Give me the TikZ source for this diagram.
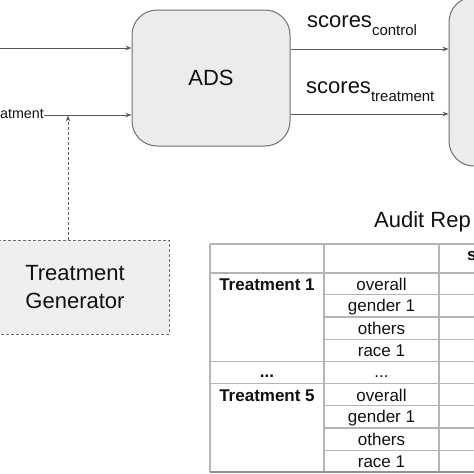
\documentclass[tikz,border=0pt]{standalone}
\usepackage{fontspec}
\setmainfont{Liberation Sans}
\usetikzlibrary{arrows.meta}
\definecolor{boxfill}{HTML}{ECECEC}
\definecolor{genfill}{HTML}{EFEFEF}
\definecolor{boxline}{HTML}{707070}
\definecolor{arrcol}{HTML}{5A5A5A}
\definecolor{gridcol}{HTML}{B5B5B5}
\definecolor{txt}{HTML}{111111}
\tikzset{
 sysbox/.style={draw=boxline, fill=boxfill, line width=1pt, rounded corners=25pt, text=txt, font=\fontsize{22}{26}\selectfont, inner sep=0pt},
 genbox/.style={draw=boxline, fill=genfill, line width=1pt, dashed, dash pattern=on 3pt off 2pt, text=txt, font=\fontsize{22}{28}\selectfont, align=center, inner sep=0pt},
 arr/.style={draw=arrcol, line width=1pt, -{Stealth[length=6pt,width=4.5pt]}},
 dasharr/.style={arr, dash pattern=on 3pt off 2pt},
 gridline/.style={draw=gridcol, line width=1.2pt},
 cell/.style={text=txt, font=\fontsize{17}{20}\selectfont, inner sep=0pt, anchor=base},
 hcell/.style={text=txt, font=\fontsize{17}{20}\selectfont\bfseries, inner sep=0pt, anchor=base},
 lbl/.style={text=txt, font=\fontsize{22}{26}\selectfont, inner sep=0pt},
 sublbl/.style={text=txt, font=\fontsize{14.3}{18}\selectfont, inner sep=0pt},
}
\newcommand{\mysub}[1]{\raisebox{-8pt}{\fontsize{15}{18}\selectfont #1}}
\begin{document}
\begin{tikzpicture}[x=1pt,y=-1pt]
\useasboundingbox (0,0) rectangle (474,474);
\clip (0,0) rectangle (474,474);

% boxes
\node[sysbox, minimum width=158pt, minimum height=136pt] (ads) at (211,78) {ADS};
\node[sysbox, minimum width=60pt, minimum height=169pt] (aud) at (479,81.5) {};
\node[genbox, minimum width=188pt, minimum height=94pt] (tg) at (75,287) {Treatment\\Generator};

% inputs
\coordinate (in1) at (0,48);
\node[sublbl, anchor=base east] (tl) at (44,118.5) {atment};
\coordinate (in2) at (44,115);
\draw[arr] (in1) -- (ads.west |- in1);
\draw[arr] (in2) -- (ads.west |- in2);
\coordinate (j) at (68,115.5);
\draw[dasharr] (tg.north -| j) -- (j);

% outputs
\coordinate (o1) at (0,49);
\coordinate (o2) at (0,114);
\draw[arr] (ads.east |- o1) -- (aud.west |- o1);
\draw[arr] (ads.east |- o2) -- (aud.west |- o2);
\node[lbl, anchor=base west] (sc) at (307,27) {scores\mysub{control}};
\node[lbl, anchor=base west] (st) at (306,93) {scores\mysub{treatment}};

% audit report
\node[lbl, anchor=base west] (ar) at (374,227.5) {Audit Rep};

% table grid
\foreach \yy in {244,273,361.3,383.7,472}
  \draw[gridline] (210,\yy) -- (480,\yy);
\foreach \yy in {294.3,317,339.3,405.3,428,450.3}
  \draw[gridline] (324,\yy) -- (480,\yy);
\foreach \xx in {210,324,439}
  \draw[gridline] (\xx,244) -- (\xx,472);
\draw[draw=gridcol!80!black, line width=1.6pt] (210,472) -- (480,472);

% table text
\node[hcell, anchor=base west] (hs) at (467,260) {s};
\node[hcell] (t1) at (267,290) {Treatment 1};
\node[cell] (a1) at (381.5,290) {overall};
\node[cell] (b1) at (381.5,311.5) {gender 1};
\node[cell] (c1) at (381.5,334) {others};
\node[cell] (d1) at (381.5,356) {race 1};
\node[hcell] (dt) at (267,377) {...};
\node[cell] (dd) at (381.5,377) {...};
\node[hcell] (t5) at (267,401) {Treatment 5};
\node[cell] (a5) at (381.5,401) {overall};
\node[cell] (b5) at (381.5,422.5) {gender 1};
\node[cell] (c5) at (381.5,445) {others};
\node[cell] (d5) at (381.5,467) {race 1};
\end{tikzpicture}
\end{document}
